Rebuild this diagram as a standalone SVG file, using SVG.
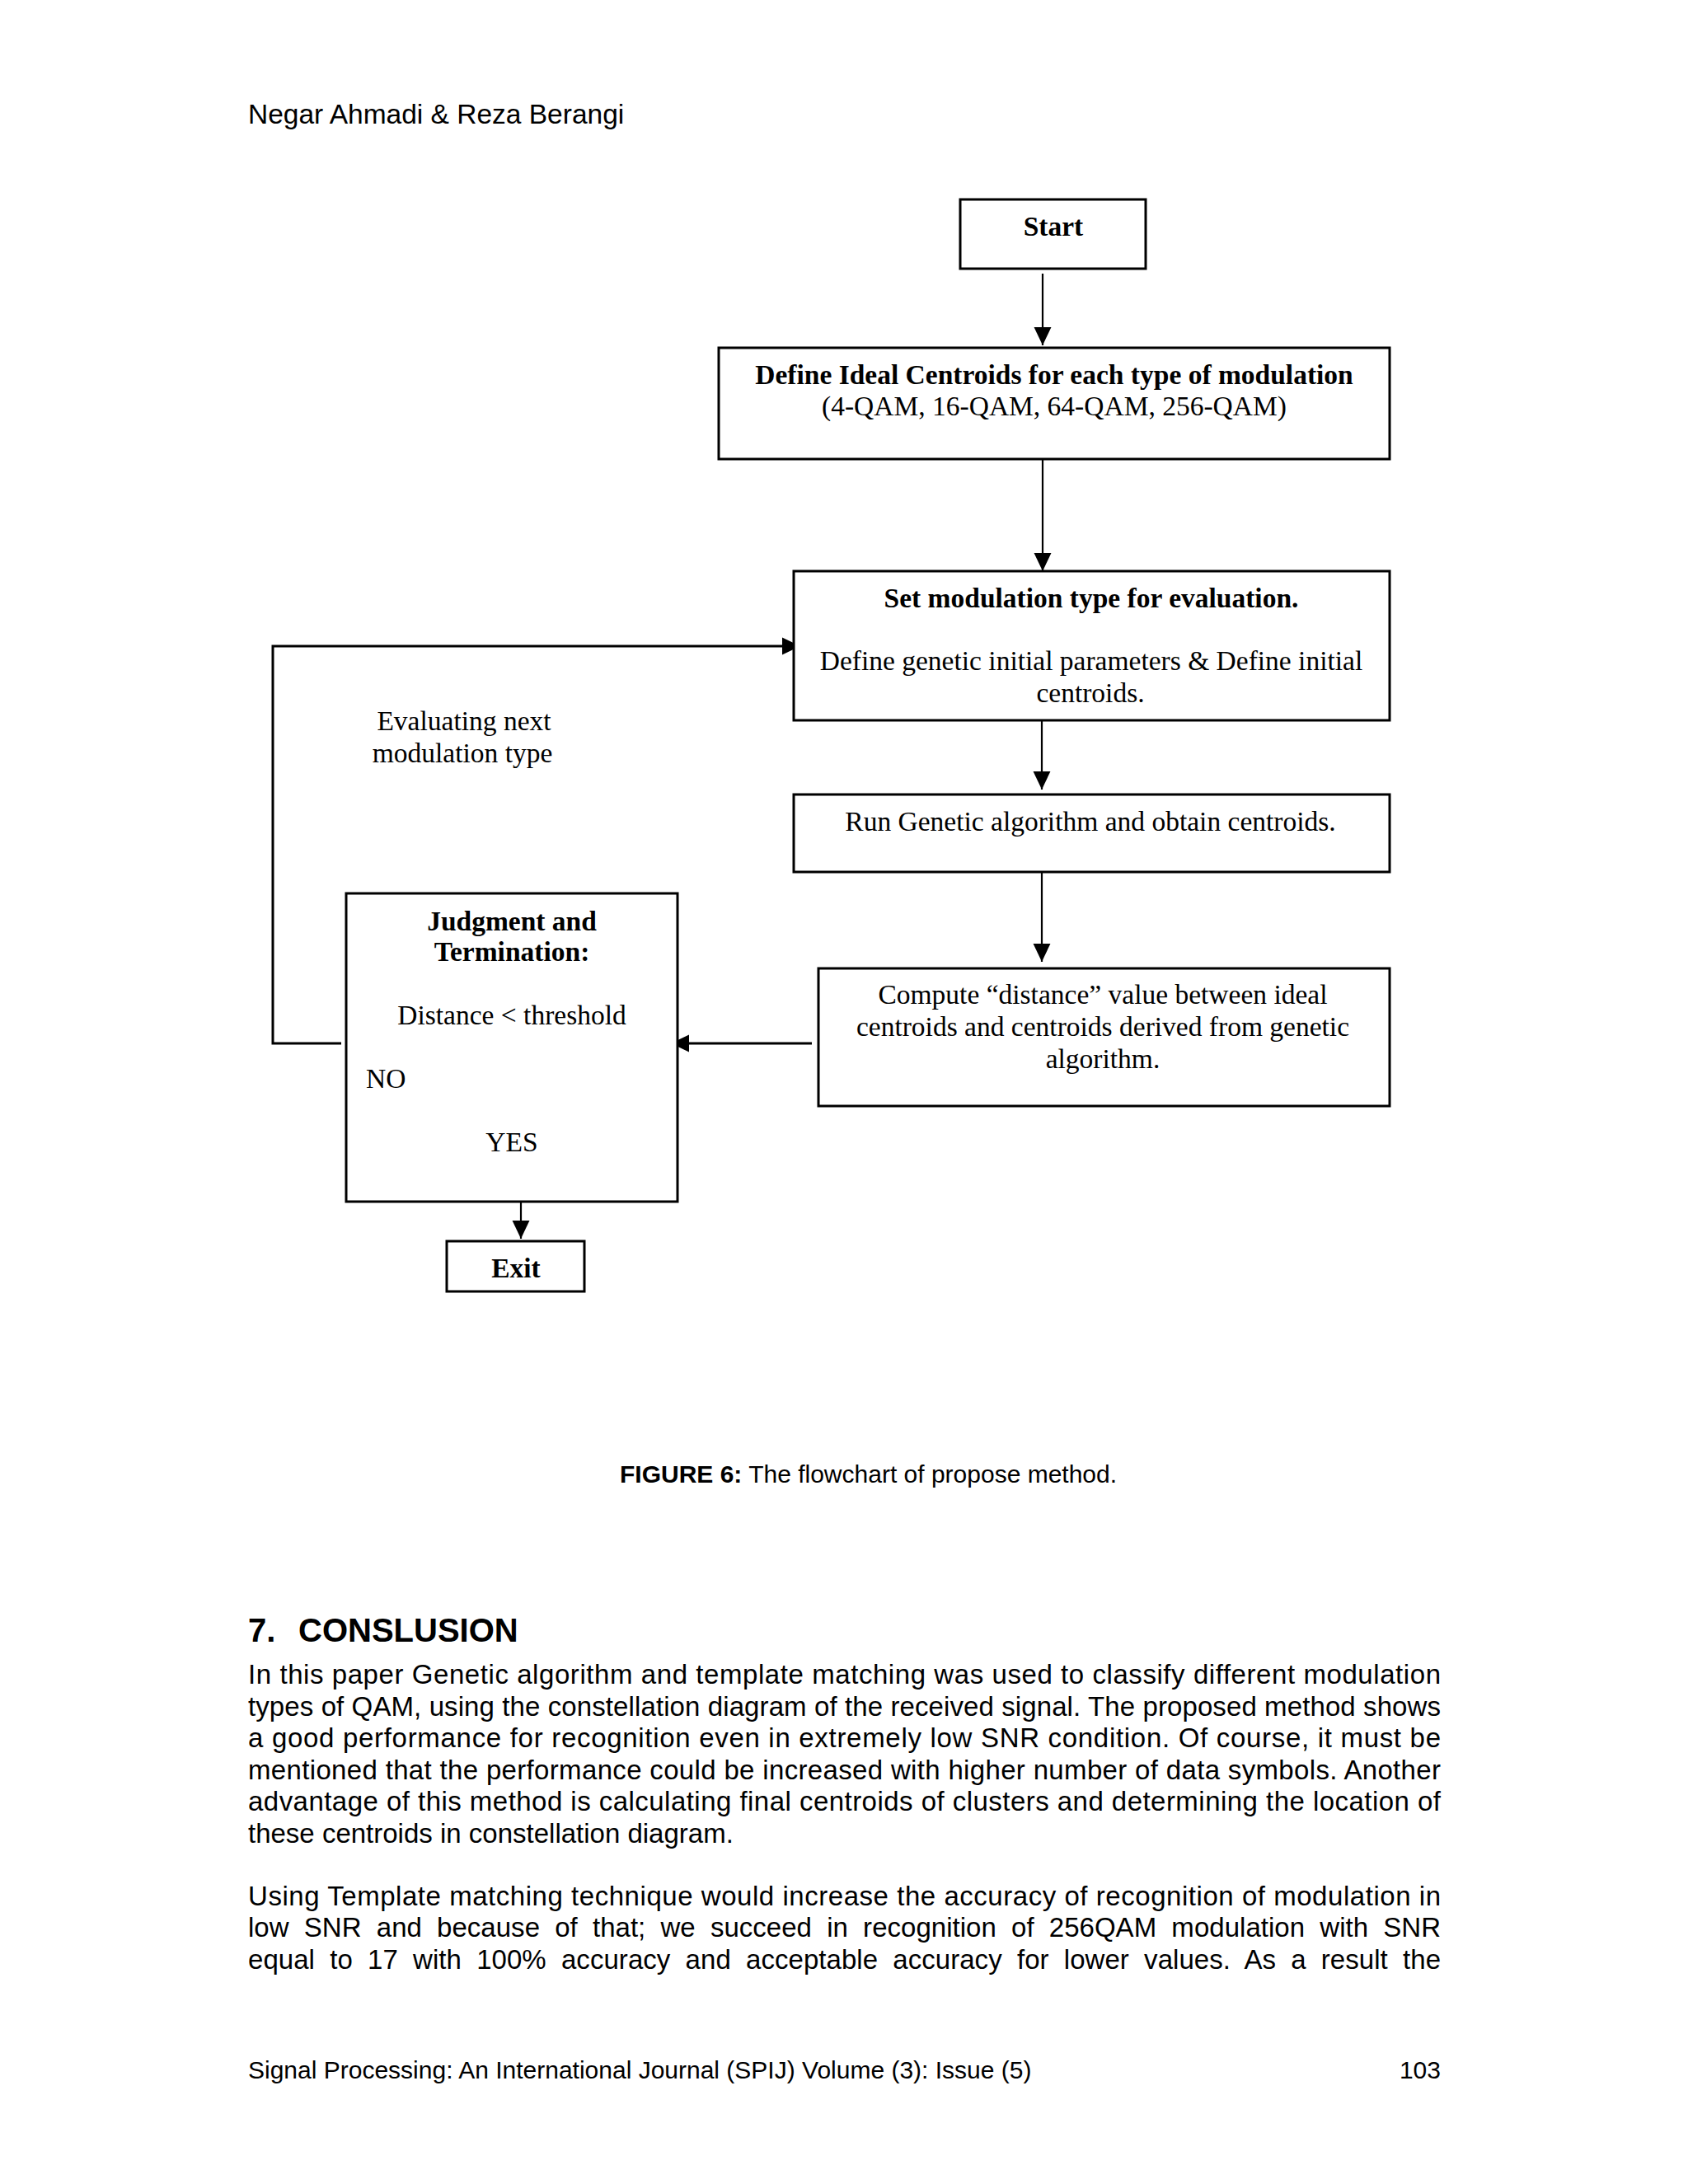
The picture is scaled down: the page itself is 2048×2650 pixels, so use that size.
<svg xmlns="http://www.w3.org/2000/svg" width="2048" height="2650" viewBox="0 0 2048 2650">
<style>
.box{fill:#fff;stroke:#000;stroke-width:3}
.t{font-family:"Liberation Serif","Times New Roman",serif;font-size:33.5px;fill:#000}
.tc{text-anchor:middle}
.b{font-weight:bold}
.a{font-family:"Liberation Sans",Arial,sans-serif;font-size:33.5px;fill:#000}
.p{font-size:33px}
.cap{font-size:30px}
.ft{font-size:30px}
.h{font-family:"Liberation Sans",Arial,sans-serif;font-size:40px;font-weight:bold;fill:#000}
.ln{fill:none;stroke:#000;stroke-width:2.2}
.lnt{fill:none;stroke:#000;stroke-width:3}
</style>
<defs>
<marker id="arr" markerUnits="userSpaceOnUse" markerWidth="22" markerHeight="22" viewBox="0 0 20 20" refX="20" refY="10" orient="auto">
<path d="M0,0.5 L20,10 L0,19.5 Z" fill="#000"/>
</marker>
</defs>
<rect width="2048" height="2650" fill="#fff"/>

<g id="page-header">
<text class="a" x="301" y="150">Negar Ahmadi &amp; Reza Berangi</text>
</g>

<g id="connectors">
<line class="ln" x1="1265" y1="332" x2="1265" y2="419" marker-end="url(#arr)"/>
<line class="ln" x1="1265" y1="542" x2="1265" y2="693" marker-end="url(#arr)"/>
<line class="ln" x1="1264" y1="874" x2="1264" y2="958" marker-end="url(#arr)"/>
<line class="ln" x1="1264" y1="1055" x2="1264" y2="1167" marker-end="url(#arr)"/>
<line class="lnt" x1="985" y1="1266" x2="814" y2="1266" marker-end="url(#arr)"/>
<polyline class="lnt" points="414,1266 331,1266 331,784 971,784" marker-end="url(#arr)"/>
<line class="ln" x1="632" y1="1446" x2="632" y2="1503" marker-end="url(#arr)"/>
</g>

<g id="loop-label">
<text class="t tc" x="563" y="886">Evaluating next</text>
<text class="t tc" x="561" y="925">modulation type</text>
</g>

<g id="node-start">
<rect class="box" x="1165" y="242" width="225" height="84"/>
<text class="t tc b" x="1278" y="286">Start</text>
</g>

<g id="node-define">
<rect class="box" x="872" y="422" width="814" height="135"/>
<text class="t tc b" x="1279" y="466">Define Ideal Centroids for each type of modulation</text>
<text class="t tc" x="1279" y="504">(4-QAM, 16-QAM, 64-QAM, 256-QAM)</text>
</g>

<g id="node-set">
<rect class="box" x="963" y="693" width="723" height="181"/>
<text class="t tc b" x="1324" y="737">Set modulation type for evaluation.</text>
<text class="t tc" x="1324" y="813">Define genetic initial parameters &amp; Define initial</text>
<text class="t tc" x="1323" y="852">centroids.</text>
</g>

<g id="node-run">
<rect class="box" x="963" y="964" width="723" height="94"/>
<text class="t tc" x="1323" y="1008">Run Genetic algorithm and obtain centroids.</text>
</g>

<g id="node-compute">
<rect class="box" x="993" y="1175" width="693" height="167"/>
<text class="t tc" x="1338" y="1218">Compute “distance” value between ideal</text>
<text class="t tc" x="1338" y="1257">centroids and centroids derived from genetic</text>
<text class="t tc" x="1338" y="1296">algorithm.</text>
</g>

<g id="node-judgment">
<rect class="box" x="420" y="1084" width="402" height="374"/>
<text class="t tc b" x="621" y="1129">Judgment and</text>
<text class="t tc b" x="621" y="1166">Termination:</text>
<text class="t tc" x="621" y="1243">Distance &lt; threshold</text>
<text class="t" x="444" y="1320">NO</text>
<text class="t tc" x="621" y="1397">YES</text>
</g>

<g id="node-exit">
<rect class="box" x="542" y="1506" width="167" height="61"/>
<text class="t tc b" x="626" y="1550">Exit</text>
</g>

<g id="caption">
<text class="a cap" x="752" y="1799"><tspan font-weight="bold">FIGURE 6:</tspan> The flowchart of propose method.</text>
</g>

<g id="section">
<text class="h" y="1992"><tspan x="301">7.</tspan><tspan x="362">CONSLUSION</tspan></text>
<text class="a p" x="301" y="2043" textLength="1447" lengthAdjust="spacing">In this paper Genetic algorithm and template matching was used to classify different modulation</text>
<text class="a p" x="301" y="2082" textLength="1447" lengthAdjust="spacing">types of QAM, using the constellation diagram of the received signal. The proposed method shows</text>
<text class="a p" x="301" y="2120" textLength="1447" lengthAdjust="spacing">a good performance for recognition even in extremely low SNR condition. Of course, it must be</text>
<text class="a p" x="301" y="2159" textLength="1447" lengthAdjust="spacing">mentioned that the performance could be increased with higher number of data symbols. Another</text>
<text class="a p" x="301" y="2197" textLength="1447" lengthAdjust="spacing">advantage of this method is calculating final centroids of clusters and determining the location of</text>
<text class="a p" x="301" y="2236">these centroids in constellation diagram.</text>
<text class="a p" x="301" y="2312" textLength="1447" lengthAdjust="spacing">Using Template matching technique would increase the accuracy of recognition of modulation in</text>
<text class="a p" x="301" y="2350" word-spacing="9" textLength="1447" lengthAdjust="spacing">low SNR and because of that; we succeed in recognition of 256QAM modulation with SNR</text>
<text class="a p" x="301" y="2389" word-spacing="9" textLength="1447" lengthAdjust="spacing">equal to 17 with 100% accuracy and acceptable accuracy for lower values. As a result the</text>
</g>

<g id="page-footer">
<text class="a ft" x="301" y="2522">Signal Processing: An International Journal (SPIJ) Volume (3): Issue (5)</text>
<text class="a ft" x="1748" y="2522" text-anchor="end">103</text>
</g>
</svg>
